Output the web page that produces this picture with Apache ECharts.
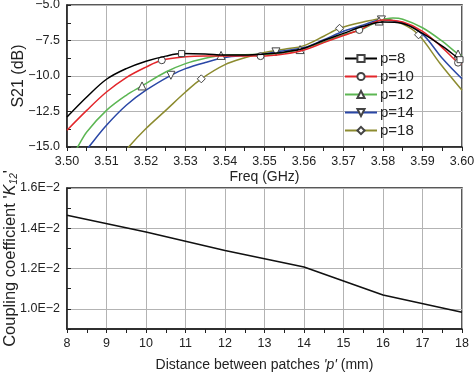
<!DOCTYPE html>
<html>
<head>
<meta charset="utf-8">
<script src="https://cdn.jsdelivr.net/npm/echarts@6/dist/echarts.min.js"></script>
<style>
html,body{margin:0;padding:0;background:#fff;}
#chart{width:474px;height:374px;}
</style>
</head>
<body>
<div id="chart"></div>
<script>
// ---- Top plot: S21 vs frequency ----
const seriesNames = ['p=8', 'p=10', 'p=12', 'p=14', 'p=18'];

const freq8 = [3.500,3.505,3.510,3.515,3.520,3.525,3.529,3.535,3.540,3.545,3.550,3.555,3.560,3.565,3.570,3.575,3.580,3.585,3.590,3.595,3.5995,3.600];
const s21_8 = [-12.89,-11.48,-10.23,-9.48,-8.96,-8.6,-8.42,-8.45,-8.52,-8.52,-8.45,-8.32,-8.05,-7.5,-7.0,-6.5,-6.2,-6.3,-7.0,-7.9,-8.85,-8.95];
const markers8 = [3.529, 3.5995];

const freq10 = [3.500,3.505,3.510,3.515,3.520,3.524,3.530,3.535,3.540,3.545,3.549,3.555,3.560,3.565,3.570,3.574,3.580,3.585,3.590,3.595,3.599,3.600];
const s21_10 = [-13.82,-12.42,-11.13,-10.11,-9.37,-8.89,-8.65,-8.6,-8.6,-8.6,-8.6,-8.45,-8.17,-7.65,-7.15,-6.76,-6.05,-6.2,-6.85,-8.0,-9.06,-9.15];
const markers10 = [3.524, 3.549, 3.574, 3.599];

const freq12 = [3.500,3.5027,3.505,3.510,3.515,3.519,3.525,3.530,3.535,3.539,3.545,3.550,3.555,3.559,3.565,3.570,3.5743,3.579,3.5825,3.585,3.590,3.595,3.599,3.600];
const s21_12 = [-16.2,-15.0,-13.94,-12.42,-11.36,-10.70,-9.72,-9.13,-8.75,-8.55,-8.5,-8.48,-8.35,-8.14,-7.6,-7.1,-6.76,-6.13,-5.92,-6.0,-6.6,-7.55,-8.45,-8.55];
const markers12 = [3.519, 3.539, 3.559, 3.579, 3.599];

const freq14 = [3.500,3.5055,3.510,3.515,3.520,3.5263,3.530,3.535,3.540,3.545,3.550,3.5529,3.560,3.565,3.570,3.575,3.5796,3.585,3.590,3.595,3.600];
const s21_14 = [-16.9,-15.0,-13.47,-12.06,-11.0,-9.95,-9.48,-9.05,-8.7,-8.55,-8.45,-8.3,-8.0,-7.45,-6.85,-6.4,-6.05,-6.25,-7.05,-8.75,-10.2];
const markers14 = [3.5263, 3.5529, 3.5796];

const freq18 = [3.510,3.5156,3.520,3.525,3.530,3.534,3.540,3.545,3.550,3.555,3.560,3.565,3.569,3.575,3.580,3.585,3.589,3.5944,3.600];
const s21_18 = [-16.9,-15.0,-13.7,-12.42,-11.13,-10.2,-9.2,-8.72,-8.35,-8.12,-7.86,-7.2,-6.64,-6.2,-5.96,-6.35,-7.1,-9.1,-11.0];
const markers18 = [3.534, 3.569, 3.589];

const freqTicks = { min: 3.50, max: 3.60, step: 0.01 };
const s21Ticks = { min: -15, max: -5, step: 2.5 };

// ---- Bottom plot: coupling coefficient vs distance ----
const distance = [8, 10, 12, 14, 16, 18];
const coupling = [0.01465, 0.01382, 0.01290, 0.01208, 0.01069, 0.00983];
const distTicks = { min: 8, max: 18, step: 1 };
const kTicks = { min: 0.009, max: 0.016, step: 0.001 };

const colors = ['#000000', '#e3262b', '#5cb653', '#2a47a6', '#8c8b2f'];
const symbols = ['rect', 'circle', 'triangle', 'path://M0,0 L10,0 L5,9 Z', 'diamond'];
const symbolSizes = [6, 7, 8, 8, 8];

const FONT = 'Liberation Sans, Arial, sans-serif';
const GRIDC = '#b3b3b3';
const AXC = '#222';

function buildData(fr, vals, marks) {
  return fr.map((f, i) => {
    const isMark = marks.some(m => Math.abs(m - f) < 1e-6);
    return isMark ? { value: [f, vals[i]] } : { value: [f, vals[i]], symbol: 'none' };
  });
}

const topSets = [
  [freq8, s21_8, markers8],
  [freq10, s21_10, markers10],
  [freq12, s21_12, markers12],
  [freq14, s21_14, markers14],
  [freq18, s21_18, markers18]
];

const topSeries = topSets.map((s, i) => ({
  name: seriesNames[i],
  type: 'line',
  xAxisIndex: 0, yAxisIndex: 0,
  smooth: 0.35,
  clip: true,
  symbol: symbols[i],
  symbolSize: symbolSizes[i],
  showAllSymbol: true,
  lineStyle: { color: colors[i], width: 1.5 },
  itemStyle: { color: '#ffffff', borderColor: '#444', borderWidth: 1 },
  emphasis: { disabled: true },
  data: buildData(s[0], s[1], s[2]),
  z: 2 + (4 - i)
}));

const chart = echarts.init(document.getElementById('chart'), null, { renderer: 'canvas' });

const axisLabelStyle = { color: AXC, fontFamily: FONT, fontSize: 12.5 };

chart.setOption({
  animation: false,
  backgroundColor: '#fff',
  textStyle: { fontFamily: FONT },
  grid: [
    { left: 67, right: 12, top: 5, height: 142, outerBoundsMode: 'none', containLabel: false, show: true, borderColor: AXC, borderWidth: 1.5, backgroundColor: 'transparent' },
    { left: 67, right: 12, top: 188, height: 141, outerBoundsMode: 'none', containLabel: false, show: true, borderColor: AXC, borderWidth: 1.5, backgroundColor: 'transparent' }
  ],
  legend: {
    orient: 'vertical',
    left: 339, top: 46,
    itemWidth: 32, itemHeight: 9, itemGap: 3,
    data: seriesNames,
    textStyle: { color: AXC, fontFamily: FONT, fontSize: 15, padding: [0, 0, 0, -2] },
    selectedMode: false
  },
  xAxis: [
    {
      gridIndex: 0, type: 'value',
      min: freqTicks.min, max: freqTicks.max, interval: freqTicks.step,
      name: 'Freq (GHz)', nameLocation: 'middle', nameGap: 23, nameMoveOverlap: false,
      nameTextStyle: { color: AXC, fontFamily: FONT, fontSize: 14 },
      axisLine: { show: true, lineStyle: { color: AXC, width: 1.5 } },
      axisTick: { show: true, inside: false, length: 4, lineStyle: { color: AXC } },
      minorTick: { show: true, splitNumber: 2, length: 4, lineStyle: { color: AXC } },
      splitLine: { show: true, lineStyle: { color: GRIDC, width: 1 } },
      axisLabel: Object.assign({ margin: 8, formatter: v => v.toFixed(2) }, axisLabelStyle)
    },
    {
      gridIndex: 1, type: 'value',
      min: distTicks.min, max: distTicks.max, interval: distTicks.step,
      name: "Distance between patches {i|'p'} (mm)", nameLocation: 'middle', nameGap: 29, nameMoveOverlap: false,
      nameTextStyle: { color: AXC, fontFamily: FONT, fontSize: 14, rich: { i: { fontStyle: 'italic', fontFamily: FONT, fontSize: 14, color: AXC } } },
      axisLine: { show: true, lineStyle: { color: AXC, width: 1.5 } },
      axisTick: { show: true, inside: false, length: 4, lineStyle: { color: AXC } },
      minorTick: { show: true, splitNumber: 2, length: 4, lineStyle: { color: AXC } },
      splitLine: { show: true, lineStyle: { color: GRIDC, width: 1 } },
      axisLabel: Object.assign({ margin: 8, formatter: v => String(Math.round(v)) }, axisLabelStyle)
    }
  ],
  yAxis: [
    {
      gridIndex: 0, type: 'value',
      min: s21Ticks.min, max: s21Ticks.max, interval: s21Ticks.step,
      name: 'S21 (dB)', nameLocation: 'middle', nameGap: 40, nameMoveOverlap: false,
      nameTextStyle: { color: AXC, fontFamily: FONT, fontSize: 16 },
      axisLine: { show: true, lineStyle: { color: AXC, width: 1.5 } },
      axisTick: { show: true, inside: true, length: 4, lineStyle: { color: AXC } },
      minorTick: { show: true, splitNumber: 2, length: 4, lineStyle: { color: AXC } },
      splitLine: { show: true, lineStyle: { color: GRIDC, width: 1 } },
      axisLabel: Object.assign({ margin: 7, formatter: v => v.toFixed(1).replace('-', '\u2212') }, axisLabelStyle)
    },
    {
      gridIndex: 1, type: 'value',
      min: kTicks.min, max: kTicks.max, interval: kTicks.step,
      name: "Coupling coefficient '{k|K}{s|12}'", nameLocation: 'middle', nameGap: 48, nameMoveOverlap: false,
      nameTextStyle: { color: AXC, fontFamily: FONT, fontSize: 16.5,
        rich: { k: { fontStyle: 'italic', fontFamily: FONT, fontSize: 16.5, color: AXC },
                s: { fontStyle: 'italic', fontFamily: FONT, fontSize: 10, color: AXC, verticalAlign: 'bottom', padding: [7, 0, 0, 0] } } },
      axisLine: { show: true, lineStyle: { color: AXC, width: 1.5 } },
      axisTick: { show: true, inside: true, length: 4, lineStyle: { color: AXC } },
      splitLine: { show: true, lineStyle: { color: ['transparent', GRIDC], width: 1 } },
      axisLabel: Object.assign({ margin: 7, formatter: v => {
        const m = Math.round(v * 1000);
        return m % 2 === 0 ? (m / 10).toFixed(1) + 'E\u22122' : '';
      } }, axisLabelStyle)
    }
  ],
  series: topSeries.concat([{
    name: 'K12',
    type: 'line',
    xAxisIndex: 1, yAxisIndex: 1,
    symbol: 'none',
    lineStyle: { color: '#111', width: 1.6 },
    emphasis: { disabled: true },
    data: distance.map((d, i) => [d, coupling[i]])
  }])
});
</script>
</body>
</html>
